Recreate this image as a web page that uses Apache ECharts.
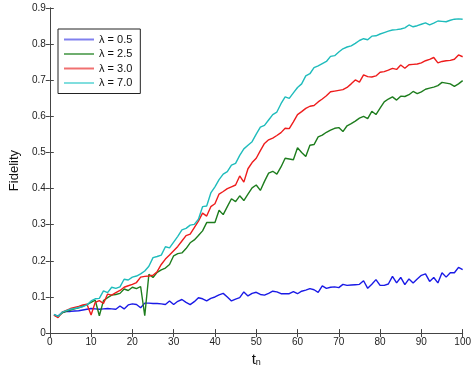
<!DOCTYPE html>
<html>
<head>
<meta charset="utf-8">
<script src="https://cdn.jsdelivr.net/npm/echarts@6/dist/echarts.min.js"></script>
<style>html,body{margin:0;padding:0;background:#fff}#c{width:474px;height:372px}</style>
</head>
<body>
<div id="c"></div>
<script>
const xValues = Array.from({length: 100}, (_, i) => i + 1);
const seriesNames = ['λ = 0.5', 'λ = 2.5', 'λ = 3.0', 'λ = 7.0'];
const xTicks = [0, 10, 20, 30, 40, 50, 60, 70, 80, 90, 100];
const yTicks = [0, 0.1, 0.2, 0.3, 0.4, 0.5, 0.6, 0.7, 0.8, 0.9];

const lambda05 = [0.051,0.047,0.057,0.060,0.060,0.061,0.062,0.064,0.066,0.068,
0.067,0.066,0.067,0.068,0.067,0.066,0.075,0.067,0.078,0.081,
0.079,0.070,0.083,0.083,0.082,0.082,0.081,0.079,0.089,0.079,
0.088,0.093,0.085,0.079,0.087,0.098,0.095,0.089,0.096,0.100,
0.106,0.110,0.100,0.089,0.094,0.098,0.114,0.103,0.110,0.113,
0.107,0.105,0.110,0.116,0.114,0.109,0.109,0.109,0.115,0.109,
0.116,0.119,0.123,0.120,0.113,0.131,0.124,0.127,0.128,0.126,
0.135,0.132,0.133,0.134,0.135,0.145,0.124,0.135,0.148,0.132,
0.132,0.136,0.157,0.139,0.154,0.134,0.150,0.139,0.150,0.160,
0.164,0.143,0.154,0.139,0.167,0.155,0.167,0.167,0.182,0.176];

const lambda25 = [0.050,0.046,0.056,0.060,0.064,0.067,0.070,0.075,0.079,0.085,
0.091,0.048,0.090,0.098,0.105,0.107,0.110,0.122,0.118,0.127,
0.123,0.129,0.048,0.163,0.154,0.168,0.175,0.180,0.190,0.214,
0.220,0.222,0.234,0.250,0.258,0.270,0.283,0.306,0.306,0.306,
0.340,0.328,0.350,0.372,0.364,0.380,0.367,0.385,0.402,0.410,
0.395,0.420,0.443,0.448,0.440,0.460,0.484,0.482,0.480,0.513,
0.500,0.489,0.520,0.522,0.543,0.548,0.556,0.562,0.567,0.569,
0.558,0.574,0.580,0.587,0.595,0.600,0.594,0.614,0.605,0.623,
0.640,0.648,0.654,0.645,0.656,0.655,0.660,0.669,0.663,0.668,
0.675,0.678,0.681,0.685,0.694,0.692,0.690,0.683,0.690,0.699];

const lambda30 = [0.050,0.043,0.058,0.063,0.068,0.071,0.074,0.078,0.080,0.050,
0.085,0.090,0.082,0.108,0.105,0.112,0.118,0.127,0.131,0.135,
0.140,0.155,0.157,0.158,0.160,0.170,0.190,0.205,0.216,0.228,
0.240,0.255,0.270,0.274,0.292,0.310,0.332,0.324,0.350,0.358,
0.385,0.392,0.400,0.405,0.410,0.435,0.418,0.455,0.472,0.484,
0.505,0.525,0.535,0.540,0.547,0.555,0.567,0.566,0.585,0.605,
0.613,0.622,0.628,0.630,0.640,0.648,0.657,0.668,0.670,0.672,
0.674,0.680,0.690,0.701,0.695,0.715,0.710,0.709,0.712,0.722,
0.724,0.728,0.733,0.730,0.742,0.733,0.743,0.744,0.745,0.748,
0.754,0.758,0.763,0.748,0.752,0.754,0.755,0.758,0.770,0.765];

const lambda70 = [0.052,0.046,0.058,0.062,0.066,0.068,0.071,0.073,0.078,0.089,
0.095,0.096,0.117,0.112,0.127,0.124,0.128,0.149,0.147,0.155,
0.158,0.164,0.172,0.185,0.209,0.212,0.216,0.239,0.236,0.252,
0.268,0.286,0.290,0.299,0.301,0.315,0.350,0.352,0.388,0.405,
0.425,0.440,0.447,0.465,0.470,0.492,0.510,0.520,0.530,0.551,
0.570,0.575,0.590,0.605,0.612,0.635,0.654,0.650,0.665,0.680,
0.690,0.712,0.718,0.735,0.740,0.746,0.752,0.766,0.768,0.778,
0.787,0.792,0.795,0.802,0.810,0.815,0.812,0.822,0.823,0.828,
0.832,0.836,0.839,0.840,0.842,0.845,0.853,0.848,0.851,0.855,
0.859,0.853,0.858,0.864,0.863,0.862,0.866,0.869,0.870,0.869];

const colors = ['#1a1ae6', '#1e7d1e', '#ee1c1c', '#1fbcbc'];
const legendColors = ['#8080ee', '#6fae6f', '#f07070', '#80dede'];
const allData = [lambda05, lambda25, lambda30, lambda70];

const chart = echarts.init(document.getElementById('c'), null, {renderer: 'canvas'});
const axisCommon = {
  min: 0, axisLine: {show: true, lineStyle: {color: '#444', width: 1}},
  axisTick: {show: true, inside: true, length: 4, lineStyle: {color: '#444'}},
  splitLine: {show: false}
};
chart.setOption({
  animation: false,
  color: colors,
  grid: {left: 37, right: 10, top: 8, bottom: 28},
  legend: {
    orient: 'vertical', left: 58, top: 29,
    data: seriesNames.map((n, i) => ({name: n, itemStyle: {color: legendColors[i]}})),
    icon: 'rect',
    borderColor: '#222', borderWidth: 1, padding: [4, 8, 4, 6],
    itemWidth: 30, itemHeight: 2, itemGap: 1.5,
    textStyle: {fontFamily: 'Liberation Sans, Arial', fontSize: 11, color: '#111', lineHeight: 13},
    backgroundColor: '#fff'
  },
  xAxis: [
    Object.assign({}, axisCommon, {
      type: 'value', max: 100, interval: 10, position: 'bottom',
      axisLabel: {fontFamily: 'Liberation Sans, Arial', fontSize: 10, color: '#222', margin: 4},
      name: '{t|t}{n|n}', nameLocation: 'middle', nameGap: 16,
      nameTextStyle: {rich: {
        t: {fontFamily: 'Liberation Sans, Arial', fontSize: 15, color: '#111'},
        n: {fontFamily: 'Liberation Sans, Arial', fontSize: 9, color: '#111', verticalAlign: 'bottom', padding: [6, 0, 0, 0]}
      }}
    }),
    Object.assign({}, axisCommon, {
      type: 'value', max: 100, interval: 10, position: 'top',
      axisLabel: {show: false}
    })
  ],
  yAxis: [
    Object.assign({}, axisCommon, {
      type: 'value', max: 0.9, interval: 0.1, position: 'left',
      axisLabel: {fontFamily: 'Liberation Sans, Arial', fontSize: 10, color: '#222', margin: 4,
        formatter: v => (Math.round(v * 10) / 10).toString()},
      name: 'Fidelity', nameLocation: 'middle', nameGap: 24,
      nameTextStyle: {fontFamily: 'Liberation Sans, Arial', fontSize: 13, color: '#111'}
    }),
    Object.assign({}, axisCommon, {
      type: 'value', max: 0.9, interval: 0.1, position: 'right',
      axisLabel: {show: false}
    })
  ],
  series: seriesNames.map((name, i) => ({
    name: name, type: 'line', symbol: 'none', showSymbol: false,
    xAxisIndex: 0, yAxisIndex: 0,
    lineStyle: {width: 1.4, color: colors[i]},
    data: xValues.map((x, j) => [x, allData[i][j]])
  }))
});
</script>
</body>
</html>
